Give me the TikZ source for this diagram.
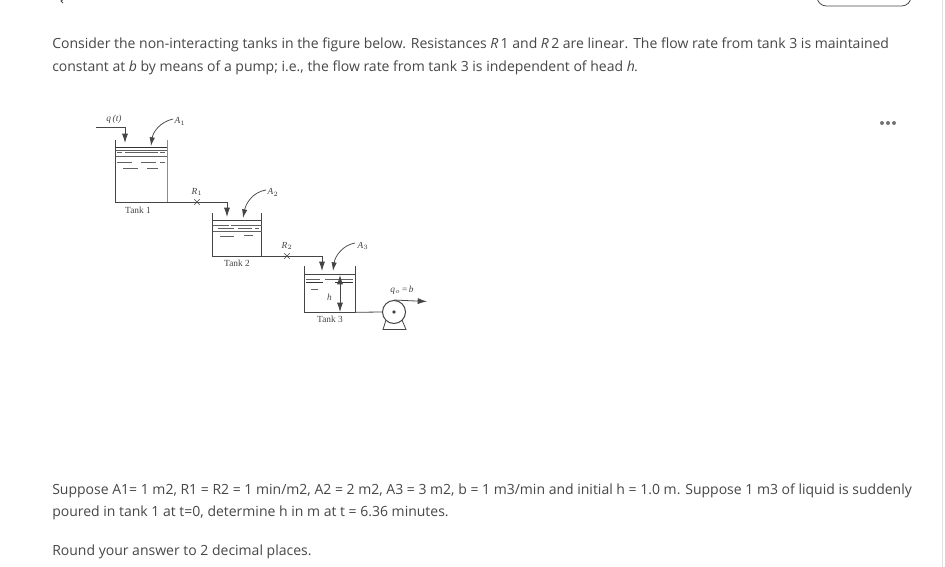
\documentclass[tikz,border=0pt]{standalone}
\usepackage{fontspec}
\setmainfont{Open Sans}
\newfontfamily\figfont{Liberation Serif}
\usetikzlibrary{arrows.meta,shapes.misc}
\definecolor{bodytext}{HTML}{474747}
\definecolor{figline}{HTML}{454545}
\tikzset{
  para/.style={anchor=base west,inner sep=0pt,text=bodytext,font=\fontsize{10.5pt}{12pt}\selectfont},
  figlabel/.style={inner sep=0pt,text=figline,font=\figfont\fontsize{7pt}{8pt}\selectfont},
  wall/.style={draw=figline,line width=0.6pt},
  liquid/.style={draw=figline!85,line width=0.5pt},
  surface/.style={draw=black!80,line width=0.75pt},
  flow/.style={draw=figline,line width=0.6pt,-{Latex[length=7pt,width=4.5pt]}},
  leader/.style={draw=figline,line width=0.55pt,-{Latex[length=6.5pt,width=4pt]}},
  valve/.style={cross out,draw=figline,line width=0.5pt,inner sep=0pt,minimum size=3.6pt}
}
\begin{document}
\begin{tikzpicture}[x=0.75pt,y=-0.75pt]
\useasboundingbox (0,0) rectangle (945,567);
\fill[white] (0,0) rectangle (945,567);
% page chrome
\draw[black!70,line width=0.6pt,rounded corners=7pt] (817,-10) -- (817,6) -- (911,6) -- (911,-10);
\draw[black!70,line width=0.7pt] (65,-2) -- (61,1) -- (63,3);
\draw[black!12,line width=0.7pt] (942.5,0) -- (942.5,567);
\fill[black!55] (882,123) circle (2) (888,123) circle (2) (894,123) circle (2);
% text
\node[para] (t1) at (52,48.6) {Consider the non-interacting tanks in the figure below. Resistances \textit{R}\,1 and \textit{R}\,2 are linear. The flow rate from tank 3 is maintained};
\node[para] (t2) at (52,71) {constant at \textit{b} by means of a pump; i.e., the flow rate from tank 3 is independent of head \textit{h.}};
\node[para] (t3) at (52,494) {Suppose A1= 1 m2, R1 = R2 = 1 min/m2, A2 = 2 m2, A3 = 3 m2, b = 1 m3/min and initial h = 1.0 m. Suppose 1 m3 of liquid is suddenly};
\node[para] (t4) at (52,516) {poured in tank 1 at t=0, determine h in m at t = 6.36 minutes.};
\node[para] (t5) at (52,555) {Round your answer to 2 decimal places.};
% Tank 1
\draw[wall,draw=black!45] (167,140) -- (167,202);
\draw[wall] (115.5,140) -- (115.5,202) -- (167,202);
\draw[surface] (115.5,147.5) -- (167,147.5);
\draw[liquid] (115.5,150) -- (167,150);
\draw[liquid] (117,152.5) -- (122,152.5) (125,152.5) -- (158,152.5) (160,152.5) -- (165,152.5);
\draw[liquid] (115.5,156) -- (167,156);
\draw[liquid] (117,162) -- (132,162) (141,162) -- (156,162) (160,162) -- (165,162);
\draw[liquid] (123,168) -- (138,168) (147,168) -- (158,168);
\node[figlabel] (tank1) at (138,210) {Tank 1};
\node[figlabel] (qt) at (114,119) {\textit{q\,(t)}};
\coordinate (qstart) at (96,127);
\coordinate (qbend) at (125,127);
\coordinate (qend) at (125,143);
\draw[flow] (qstart) -- (qbend) -- (qend);
\node[figlabel] (A1) at (180,121.5) {\textit{A}$_1$};
\coordinate (a1from) at (173,119);
\coordinate (a1to) at (151,146);
\draw[leader] (a1from) .. controls (160,122) and (153,132) .. (a1to);
% pipe 1
\coordinate (p1a) at (167,202);
\coordinate (p1b) at (227,202);
\coordinate (p1c) at (227,217);
\draw[flow] (p1a) -- (p1b) -- (p1c);
\node[valve] (v1) at (197,202) {};
\node[figlabel] (R1) at (197,192) {\textit{R}$_1$};
% Tank 2
\draw[wall] (212.7,213) -- (212.7,256) -- (261.7,256) -- (261.7,213);
\draw[surface,draw=figline] (212.7,220.7) -- (261.7,220.7);
\draw[liquid] (212.7,225) -- (229,225) (231,225) -- (261.7,225);
\draw[liquid] (218,228) -- (234,228) (238,228) -- (252,228) (255,228) -- (259,228);
\draw[liquid] (212.7,231.5) -- (261.7,231.5);
\draw[liquid] (220,236.5) -- (234,236.5) (244,235.5) -- (253,235.5);
\node[figlabel] (tank2) at (237,263) {Tank 2};
\node[figlabel] (A2) at (273,192.5) {\textit{A}$_2$};
\coordinate (a2from) at (266,190);
\coordinate (a2to) at (243,218);
\draw[leader] (a2from) .. controls (253,192) and (246,203) .. (a2to);
% pipe 2
\coordinate (p2a) at (261.7,256);
\coordinate (p2b) at (322,256);
\coordinate (p2c) at (322,271);
\draw[flow] (p2a) -- (p2b) -- (p2c);
\node[valve] (v2) at (287,256) {};
\node[figlabel] (R2) at (287,246) {\textit{R}$_2$};
% Tank 3
\draw[wall] (304.3,266) -- (304.3,312.3) -- (355.3,312.3) -- (355.3,266);
\draw[surface,draw=figline] (304.3,274.3) -- (355.3,274.3);
\draw[liquid] (306,279) -- (320,279) (325,279) -- (353,279);
\draw[surface,draw=black!80] (306,282) -- (323,282) (335,282) -- (353,282);
\draw[liquid] (311,289) -- (318,289);
\node[figlabel] (tank3) at (330,319.5) {Tank 3};
\node[figlabel] (h) at (329.5,297) {\textit{h}};
\coordinate (htop) at (340,275);
\coordinate (hbot) at (340,312);
\draw[flow,{Latex[length=7pt,width=4.5pt]}-{Latex[length=7pt,width=4.5pt]}] (htop) -- (hbot);
\node[figlabel] (A3) at (363,246) {\textit{A}$_3$};
\coordinate (a3from) at (355,243);
\coordinate (a3to) at (333,271);
\draw[leader] (a3from) .. controls (343,245) and (335,256) .. (a3to);
% pump
\node[circle,draw=figline,line width=0.75pt,minimum size=17.25pt,inner sep=0pt] (pump) at (394,312) {};
\fill[figline] (pump.center) circle (1.8);
\draw[wall] (355.3,312.3) -- (pump.west);
\coordinate (baseL) at (383,329.5);
\coordinate (baseR) at (406,329.5);
\draw[wall] (386,320) -- (baseL) -- (baseR) -- (402,320);
\coordinate (outend) at (427,301.5);
\draw[flow] (pump.north) -- (outend);
\node[figlabel] (qo) at (402,290) {\textit{q}$_o$\,=\,\textit{b}};
\end{tikzpicture}
\end{document}
